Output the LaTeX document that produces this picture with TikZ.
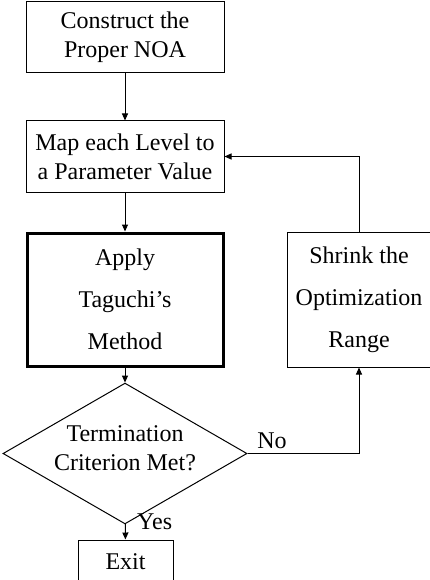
\documentclass[tikz,border=0pt]{standalone}
\usepackage{fontspec}
\setmainfont{Liberation Serif}
\usetikzlibrary{arrows.meta, shapes.geometric}

\tikzset{
  box/.style = {draw, line width=1pt, align=center, inner sep=0pt},
  arr/.style = {line width=1pt, -{Triangle[length=7pt, width=6pt]}},
}

\begin{document}
\begin{tikzpicture}[x=1pt, y=-1pt, font=\fontsize{24}{29}\selectfont]
\useasboundingbox (0,0) rectangle (430,580);
\clip (0,0) rectangle (430,580);

\node[box, minimum width=198pt, minimum height=71pt] (noa) at (125,37.5) {Construct the\\Proper NOA};
\node[box, minimum width=198pt, minimum height=71pt] (map) at (125,156.5) {Map each Level to\\a Parameter Value};
\node[box, line width=3pt, minimum width=196pt, minimum height=133pt, font=\fontsize{24}{42}\selectfont] (taguchi) at (125,299.5) {Apply\\Taguchi’s\\Method};
\node[diamond, draw, line width=1pt, align=center, inner xsep=-20pt, inner ysep=-8pt, text depth=10pt, minimum width=244pt, minimum height=111pt] (term) at (125,453.5) {Termination\\Criterion Met?};
\node[box, minimum width=95pt, minimum height=44pt] (exit) at (125.5,562) {Exit};
\node[box, minimum width=144pt, minimum height=135pt, font=\fontsize{24}{42}\selectfont] (shrink) at (359,299.5) {Shrink the\\Optimization\\Range};

\draw[arr] (noa) -- (map);
\draw[arr] (map) -- (taguchi);
\draw[arr] (taguchi) -- (term);
\draw[arr] (term) -- node[pos=0.1, right=8pt, yshift=4pt] {Yes} (exit);
\draw[arr] (term.east) -| node[pos=0.11, above=1pt] {No} (shrink.south);
\draw[arr] (shrink.north) |- (map.east);
\end{tikzpicture}
\end{document}
